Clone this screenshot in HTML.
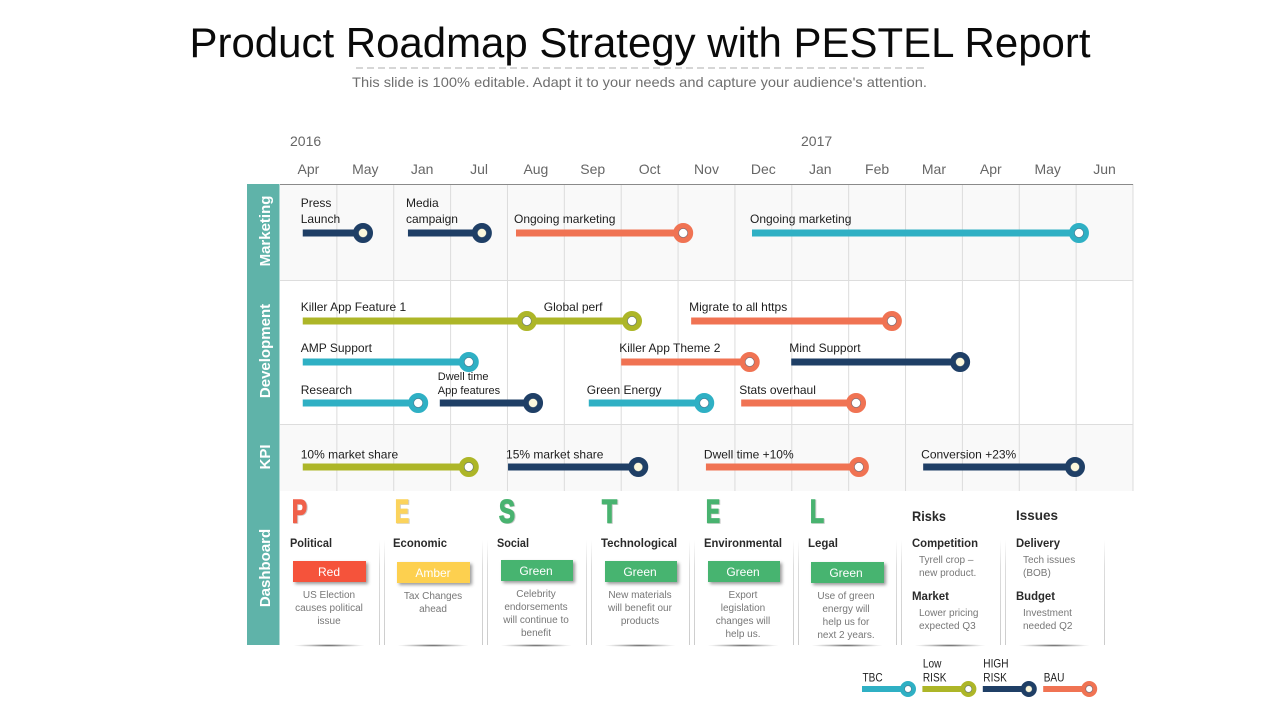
<!DOCTYPE html>
<html lang="en">
<head>
<meta charset="utf-8">
<title>Product Roadmap Strategy with PESTEL Report</title>
<style>
html,body{margin:0;padding:0;background:#fff;}
svg{display:block;font-family:"Liberation Sans",Arial,sans-serif;}
.task{font-size:12px;fill:#1d1d1d;}
.head{font-size:12px;font-weight:bold;fill:#2a2a2a;}
.desc{font-size:10px;fill:#777;}
.mid{text-anchor:middle;}
.side{font-size:15px;font-weight:bold;fill:#fff;text-anchor:middle;}
.pill{font-size:12px;fill:#fff;text-anchor:middle;}
</style>
</head>
<body>
<svg id="slide" xmlns="http://www.w3.org/2000/svg" width="1280" height="720" viewBox="0 0 1280 720">
  <defs>
    <filter id="pillShadow" x="-20%" y="-30%" width="140%" height="170%"><feDropShadow dx="2" dy="2" stdDeviation="1.5" flood-color="#000" flood-opacity="0.4"/></filter>
    <filter id="letterShadow" x="-30%" y="-30%" width="160%" height="160%"><feDropShadow dx="1" dy="0.5" stdDeviation="0.3" flood-color="#999" flood-opacity="0.5"/></filter>
    <linearGradient id="dividerFade" x1="0" y1="0" x2="0" y2="1"><stop offset="0" stop-color="#ddd" stop-opacity="0"/><stop offset="0.25" stop-color="#ddd"/><stop offset="1" stop-color="#ccc"/></linearGradient>
    <radialGradient id="cardShadow"><stop offset="0" stop-color="#555"/><stop offset="1" stop-color="#999" stop-opacity="0"/></radialGradient>
  </defs>

  <text x="640" y="57" text-anchor="middle" font-size="42" fill="#0a0a0a" textLength="901" lengthAdjust="spacingAndGlyphs">Product Roadmap Strategy with PESTEL Report</text>
  <line x1="356" y1="68" x2="925" y2="68" stroke="#c8c8c8" stroke-width="1.4" stroke-dasharray="7 4"/>
  <text x="639.5" y="87" text-anchor="middle" font-size="14" fill="#6f6f6f" textLength="575" lengthAdjust="spacingAndGlyphs">This slide is 100% editable. Adapt it to your needs and capture your audience's attention.</text>

  <g>
    <rect x="280" y="184" width="853" height="96" fill="#f9f9f9"/>
    <rect x="280" y="280" width="853" height="144" fill="#fff"/>
    <rect x="280" y="424" width="853" height="67" fill="#f9f9f9"/>
  </g>
  <g id="grid"></g>
  <g>
    <line x1="280" y1="184.5" x2="1133" y2="184.5" stroke="#8a8a8a" stroke-width="1"/>
    <line x1="280" y1="280.5" x2="1133" y2="280.5" stroke="#ddd" stroke-width="1"/>
    <line x1="280" y1="424.5" x2="1133" y2="424.5" stroke="#ddd" stroke-width="1"/>
  </g>

  <g id="axis"></g>
  <text x="290" y="146" font-size="14" fill="#666">2016</text>
  <text x="801" y="146" font-size="14" fill="#666">2017</text>

  <rect x="247" y="184" width="32.5" height="461" fill="#5fb3a9"/>
  <text class="side" transform="translate(270,231) rotate(-90)">Marketing</text>
  <text class="side" transform="translate(270,351) rotate(-90)">Development</text>
  <text class="side" transform="translate(270,457) rotate(-90)">KPI</text>
  <text class="side" transform="translate(270,568) rotate(-90)">Dashboard</text>

  <g id="tasks"></g>

  <g id="dashboard">
    <g>
      <rect x="379" y="540" width="1" height="105" fill="url(#dividerFade)"/>
      <rect x="384" y="540" width="1" height="105" fill="url(#dividerFade)"/>
      <rect x="482" y="540" width="1" height="105" fill="url(#dividerFade)"/>
      <rect x="487" y="540" width="1" height="105" fill="url(#dividerFade)"/>
      <rect x="586" y="540" width="1" height="105" fill="url(#dividerFade)"/>
      <rect x="591" y="540" width="1" height="105" fill="url(#dividerFade)"/>
      <rect x="689" y="540" width="1" height="105" fill="url(#dividerFade)"/>
      <rect x="694" y="540" width="1" height="105" fill="url(#dividerFade)"/>
      <rect x="793" y="540" width="1" height="105" fill="url(#dividerFade)"/>
      <rect x="798" y="540" width="1" height="105" fill="url(#dividerFade)"/>
      <rect x="896" y="540" width="1" height="105" fill="url(#dividerFade)"/>
      <rect x="901" y="540" width="1" height="105" fill="url(#dividerFade)"/>
      <rect x="1000" y="540" width="1" height="105" fill="url(#dividerFade)"/>
      <rect x="1005" y="540" width="1" height="105" fill="url(#dividerFade)"/>
      <rect x="1104" y="540" width="1" height="105" fill="url(#dividerFade)"/>
    </g>
    <g fill="url(#cardShadow)">
      <ellipse cx="329" cy="645.5" rx="36" ry="1.5"/>
      <ellipse cx="433" cy="645.5" rx="36" ry="1.5"/>
      <ellipse cx="536" cy="645.5" rx="36" ry="1.5"/>
      <ellipse cx="640" cy="645.5" rx="36" ry="1.5"/>
      <ellipse cx="743" cy="645.5" rx="36" ry="1.5"/>
      <ellipse cx="847" cy="645.5" rx="36" ry="1.5"/>
      <ellipse cx="950" cy="645.5" rx="36" ry="1.5"/>
      <ellipse cx="1054" cy="645.5" rx="36" ry="1.5"/>
    </g>

    <g>
      <text x="292" y="522.5" font-size="32" font-weight="bold" fill="#f0604a" stroke="#f0604a" stroke-width="1.4" filter="url(#letterShadow)" textLength="15" lengthAdjust="spacingAndGlyphs">P</text>
      <text class="head" x="290" y="547" textLength="42" lengthAdjust="spacingAndGlyphs">Political</text>
      <rect x="293" y="561" width="73" height="21" fill="#f5523a" filter="url(#pillShadow)"/>
      <text class="pill" x="329" y="576">Red</text>
      <text class="desc mid"><tspan x="329" y="598">US Election</tspan><tspan x="329" y="611">causes political</tspan><tspan x="329" y="624">issue</tspan></text>
    </g>
    <g>
      <text x="395" y="522.5" font-size="32" font-weight="bold" fill="#fbd35c" stroke="#fbd35c" stroke-width="1.4" filter="url(#letterShadow)" textLength="14" lengthAdjust="spacingAndGlyphs">E</text>
      <text class="head" x="393" y="547" textLength="54" lengthAdjust="spacingAndGlyphs">Economic</text>
      <rect x="397" y="562" width="73" height="21" fill="#fdd04f" filter="url(#pillShadow)"/>
      <text class="pill" x="433" y="577">Amber</text>
      <text class="desc mid"><tspan x="433" y="599">Tax Changes</tspan><tspan x="433" y="612">ahead</tspan></text>
    </g>
    <g>
      <text x="499" y="522.5" font-size="32" font-weight="bold" fill="#48b36f" stroke="#48b36f" stroke-width="1.4" filter="url(#letterShadow)" textLength="16" lengthAdjust="spacingAndGlyphs">S</text>
      <text class="head" x="497" y="547" textLength="32" lengthAdjust="spacingAndGlyphs">Social</text>
      <rect x="501" y="560" width="72" height="21" fill="#47b46f" filter="url(#pillShadow)"/>
      <text class="pill" x="536" y="575">Green</text>
      <text class="desc mid"><tspan x="536" y="597">Celebrity</tspan><tspan x="536" y="610">endorsements</tspan><tspan x="536" y="623">will continue to</tspan><tspan x="536" y="636">benefit</tspan></text>
    </g>
    <g>
      <text x="602" y="522.5" font-size="32" font-weight="bold" fill="#48b36f" stroke="#48b36f" stroke-width="1.4" filter="url(#letterShadow)" textLength="15" lengthAdjust="spacingAndGlyphs">T</text>
      <text class="head" x="601" y="547" textLength="76" lengthAdjust="spacingAndGlyphs">Technological</text>
      <rect x="605" y="561" width="72" height="21" fill="#47b46f" filter="url(#pillShadow)"/>
      <text class="pill" x="640" y="576">Green</text>
      <text class="desc mid"><tspan x="640" y="598">New materials</tspan><tspan x="640" y="611">will benefit our</tspan><tspan x="640" y="624">products</tspan></text>
    </g>
    <g>
      <text x="706" y="522.5" font-size="32" font-weight="bold" fill="#48b36f" stroke="#48b36f" stroke-width="1.4" filter="url(#letterShadow)" textLength="14" lengthAdjust="spacingAndGlyphs">E</text>
      <text class="head" x="704" y="547" textLength="78" lengthAdjust="spacingAndGlyphs">Environmental</text>
      <rect x="708" y="561" width="72" height="21" fill="#47b46f" filter="url(#pillShadow)"/>
      <text class="pill" x="743" y="576">Green</text>
      <text class="desc mid"><tspan x="743" y="598">Export</tspan><tspan x="743" y="611">legislation</tspan><tspan x="743" y="624">changes will</tspan><tspan x="743" y="637">help us.</tspan></text>
    </g>
    <g>
      <text x="810" y="522.5" font-size="32" font-weight="bold" fill="#48b36f" stroke="#48b36f" stroke-width="1.4" filter="url(#letterShadow)" textLength="14" lengthAdjust="spacingAndGlyphs">L</text>
      <text class="head" x="808" y="547" textLength="30" lengthAdjust="spacingAndGlyphs">Legal</text>
      <rect x="811" y="562" width="73" height="21" fill="#47b46f" filter="url(#pillShadow)"/>
      <text class="pill" x="846" y="577">Green</text>
      <text class="desc mid"><tspan x="846" y="599">Use of green</tspan><tspan x="846" y="612">energy will</tspan><tspan x="846" y="625">help us for</tspan><tspan x="846" y="638">next 2 years.</tspan></text>
    </g>
    <g>
      <text x="912" y="521" font-size="14" font-weight="bold" fill="#2a2a2a" textLength="34" lengthAdjust="spacingAndGlyphs">Risks</text>
      <text class="head" x="912" y="547" textLength="66" lengthAdjust="spacingAndGlyphs">Competition</text>
      <text class="desc"><tspan x="919" y="563">Tyrell crop –</tspan><tspan x="919" y="576">new product.</tspan></text>
      <text class="head" x="912" y="600" textLength="37" lengthAdjust="spacingAndGlyphs">Market</text>
      <text class="desc"><tspan x="919" y="616">Lower pricing</tspan><tspan x="919" y="629">expected Q3</tspan></text>
    </g>
    <g>
      <text x="1016" y="520" font-size="14" font-weight="bold" fill="#2a2a2a" textLength="42" lengthAdjust="spacingAndGlyphs">Issues</text>
      <text class="head" x="1016" y="547" textLength="44" lengthAdjust="spacingAndGlyphs">Delivery</text>
      <text class="desc"><tspan x="1023" y="563">Tech issues</tspan><tspan x="1023" y="576">(BOB)</tspan></text>
      <text class="head" x="1016" y="600" textLength="39" lengthAdjust="spacingAndGlyphs">Budget</text>
      <text class="desc"><tspan x="1023" y="616">Investment</tspan><tspan x="1023" y="629">needed Q2</tspan></text>
    </g>
  </g>

  <g id="legend"></g>
</svg>

<script>
// Time axis categories
const monthLabels = ['Apr','May','Jan','Jul','Aug','Sep','Oct','Nov','Dec','Jan','Feb','Mar','Apr','May','Jun'];

// Task data (dates expressed as months since the start of the axis)
const taskNames = ['Press\nLaunch','Media\ncampaign','Ongoing marketing','Ongoing marketing',
  'Killer App Feature 1','Global perf','Migrate to all https',
  'AMP Support','Killer App Theme 2','Mind Support',
  'Research','Dwell time\nApp features','Green Energy','Stats overhaul',
  '10% market share','15% market share','Dwell time +10%','Conversion +23%'];
const taskStarts = [0.40,2.25,4.15,8.30, 0.40,4.34,7.23, 0.40,6.00,8.99, 0.40,2.81,5.43,8.11, 0.40,4.01,7.49,11.31];
const taskEnds   = [1.46,3.55,7.09,14.05, 4.34,6.19,10.76, 3.32,8.26,11.96, 2.43,4.45,7.46,10.13, 3.32,6.30,10.18,13.98];
const taskLanes  = [0,0,0,0, 1,1,1, 2,2,2, 3,3,3,3, 4,4,4,4];
const taskStatus = ['HIGH RISK','HIGH RISK','BAU','TBC',
  'LOW RISK','LOW RISK','BAU',
  'TBC','BAU','HIGH RISK',
  'TBC','HIGH RISK','TBC','BAU',
  'LOW RISK','HIGH RISK','BAU','HIGH RISK'];

// Legend categories
const legendNames = ['TBC','Low\nRISK','HIGH\nRISK','BAU'];
const legendStatus = ['TBC','LOW RISK','HIGH RISK','BAU'];

const SVG_NS = 'http://www.w3.org/2000/svg';
function statusColor(s){
  if (s === 'TBC') return '#2fb0c4';
  if (s === 'LOW RISK') return '#adb628';
  if (s === 'HIGH RISK') return '#1f3f66';
  return '#f07353';
}
function holeColor(s){
  return s === 'HIGH RISK' ? '#fbf7dc' : '#fff';
}
function xScale(month){ return 280 + month * (853 / monthLabels.length); }
function laneY(lane){
  if (lane === 0) return 233;
  if (lane === 4) return 467;
  return 321 + (lane - 1) * 41;
}
function labelGap(lane){
  if (lane === 4) return 8.5;
  if (lane === 3) return 9;
  return 10;
}
function make(tag, attrs, parent){
  const el = document.createElementNS(SVG_NS, tag);
  for (const k in attrs) el.setAttribute(k, attrs[k]);
  parent.appendChild(el);
  return el;
}
function slug(s){ return s.toLowerCase().replace(/[^a-z0-9]+/g,'-').replace(/^-|-$/g,''); }

const gridLayer = document.getElementById('grid');
for (let i = 1; i <= monthLabels.length; i++){
  const g = make('line', {x1:xScale(i), x2:xScale(i), y1:184, y2:491, stroke:'#dcdcdc', 'stroke-width':1}, gridLayer);
  
  
}

const axisLayer = document.getElementById('axis');
monthLabels.forEach(function(m, i){
  const t = make('text', {x:xScale(i + 0.5), y:174, 'text-anchor':'middle', 'font-size':14, fill:'#666'}, axisLayer);
  t.textContent = m;
  
  
});

function drawLabel(parent, text, x, bottomY, size, lead, squeeze, name){
  const lines = text.split('\n');
  const t = make('text', {class:'task', style:'font-size:' + size + 'px', transform:'translate(' + x + ',0) scale(' + squeeze + ',1)'}, parent);
  
  
  lines.forEach(function(line, i){
    const s = make('tspan', {x:0, y:bottomY - (lines.length - 1 - i) * lead}, t);
    s.textContent = line;
  });
}
function drawMarker(parent, cx, cy, r, sw, hole, status, name){
  const ring = make('circle', {cx:cx, cy:cy, r:r, fill:statusColor(status), stroke:statusColor(status), 'stroke-width':sw}, parent);
  
  
  const c = make('circle', {cx:cx, cy:cy, r:hole, fill:holeColor(status), stroke:'#24405f', 'stroke-opacity':0.55, 'stroke-width':0.7}, parent);
  
  
}

const taskLayer = document.getElementById('tasks');
const barLayer = make('g', {}, taskLayer);


const markerLayer = make('g', {}, taskLayer);


taskNames.forEach(function(name, i){
  const x0 = xScale(taskStarts[i]);
  const x1 = xScale(taskEnds[i]);
  const lane = taskLanes[i];
  const y = laneY(lane);
  const bar = make('rect', {x:x0, y:y - 3.5, width:x1 - x0, height:7, fill:statusColor(taskStatus[i])}, barLayer);
  
  
  drawMarker(markerLayer, x1, y, 7.25, 5.5, 4.5, taskStatus[i], 'task-end-marker');
  const nudge = name === 'Global perf' ? 17 : -2;
  const small = name.indexOf('Dwell time\n') === 0;
  drawLabel(taskLayer, name, x0 + nudge, y - labelGap(lane), small ? 11 : 12, small ? 14 : 16, 1, 'task-label-' + slug(name));
});

const legendLayer = document.getElementById('legend');
legendNames.forEach(function(name, i){
  const x0 = 862 + i * 60.4;
  const g = make('g', {}, legendLayer);
  
  
  const bar = make('rect', {x:x0, y:686, width:46, height:6, fill:statusColor(legendStatus[i])}, g);
  
  
  drawMarker(g, x0 + 46, 689, 6, 4, 3.4, legendStatus[i], 'legend-swatch-marker');
  drawLabel(g, name, x0 + 0.5, 681.5, 12, 14, 0.84, 'legend-label');
});
</script>
</body>
</html>
